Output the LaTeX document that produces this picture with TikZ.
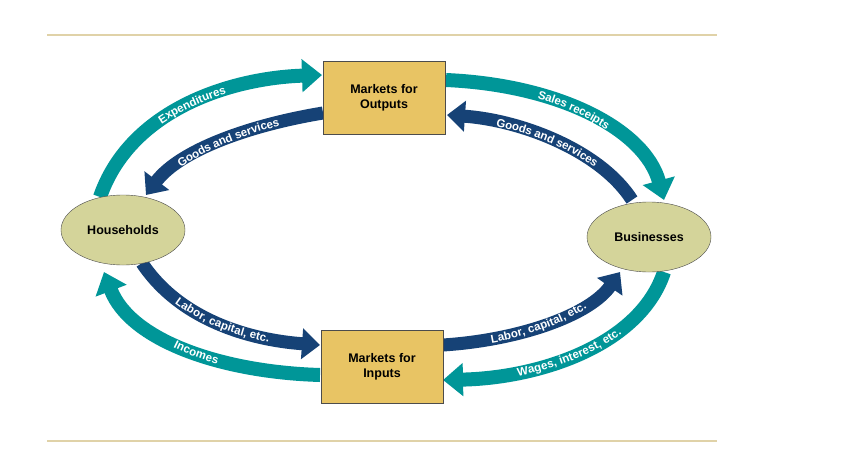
\documentclass[tikz,border=0pt]{standalone}
\usepackage{fontspec}
\setmainfont{Liberation Sans}
\usetikzlibrary{arrows.meta,decorations.text,shapes.geometric}
\definecolor{teal1}{RGB}{0,150,152}
\definecolor{navy1}{RGB}{22,66,118}
\definecolor{box1}{RGB}{232,196,100}
\definecolor{ell1}{RGB}{212,212,154}
\definecolor{rule1}{RGB}{224,210,168}
\tikzset{
 outer/.style={draw=teal1,line width=14pt,-{Triangle[width=32pt,length=20pt]}},
 inner/.style={draw=navy1,line width=13pt,-{Triangle[width=30pt,length=18pt]}},
 lbl/.style={decorate,decoration={text along path,text align=center,raise=-4pt,text={|\color{white}\bfseries\fontsize{11.5}{13}\selectfont|#1}}},
 mkt/.style={draw=black!70,fill=box1,minimum width=122pt,minimum height=73pt,align=center,font=\bfseries\fontsize{12.5}{15}\selectfont},
 agent/.style={draw=black!70,fill=ell1,ellipse,minimum width=124pt,minimum height=70pt,font=\bfseries\fontsize{12.5}{15}\selectfont}
}
\begin{document}
\begin{tikzpicture}[x=1pt,y=-1pt]
\useasboundingbox (0,0) rectangle (865,458);
\fill[white] (0,0) rectangle (865,458);
\draw[rule1,line width=2.5pt] (47,35) coordinate(r1) -- (717,35) coordinate(r2);
\draw[rule1,line width=2.5pt] (47,441) coordinate(r3) -- (717,441) coordinate(r4);
% outer arrows
\draw[outer] (100,197) .. controls (130,110) and (230,78) .. (322,75);
\path[lbl=Expenditures] (100,197) .. controls (130,110) and (230,78) .. (322,75);
\draw[outer] (446,80) .. controls (560,85) and (645,130) .. (664,200);
\path[lbl={Sales receipts}] (446,80) .. controls (560,85) and (645,130) .. (664,200);
\draw[outer] (664,272) .. controls (640,345) and (540,378) .. (443,380);
\path[lbl={Wages, interest, etc.}] (443,380) .. controls (540,378) and (640,345) .. (664,272);
\draw[outer] (320,375) .. controls (220,372) and (130,340) .. (104,272);
\path[lbl=Incomes] (104,272) .. controls (130,340) and (220,372) .. (320,375);
% inner arrows
\draw[inner] (323,113) .. controls (250,125) and (180,150) .. (146,195);
\path[lbl={Goods and services}] (146,195) .. controls (180,150) and (250,125) .. (323,113);
\draw[inner] (632,200) .. controls (600,150) and (520,120) .. (447,115);
\path[lbl={Goods and services}] (447,115) .. controls (520,120) and (600,150) .. (632,200);
\draw[inner] (142,263) .. controls (180,320) and (250,340) .. (320,345);
\path[lbl={Labor, capital, etc.}] (142,263) .. controls (180,320) and (250,340) .. (320,345);
\draw[inner] (443,345) .. controls (520,340) and (590,315) .. (620,272);
\path[lbl={Labor, capital, etc.}] (443,345) .. controls (520,340) and (590,315) .. (620,272);
% nodes
\node[mkt] (out) at (384,98) {Markets for\\Outputs};
\node[mkt] (in) at (382,367) {Markets for\\Inputs};
\node[agent] (hh) at (123,230) {Households};
\node[agent] (bus) at (649,237) {Businesses};
\end{tikzpicture}
\end{document}
